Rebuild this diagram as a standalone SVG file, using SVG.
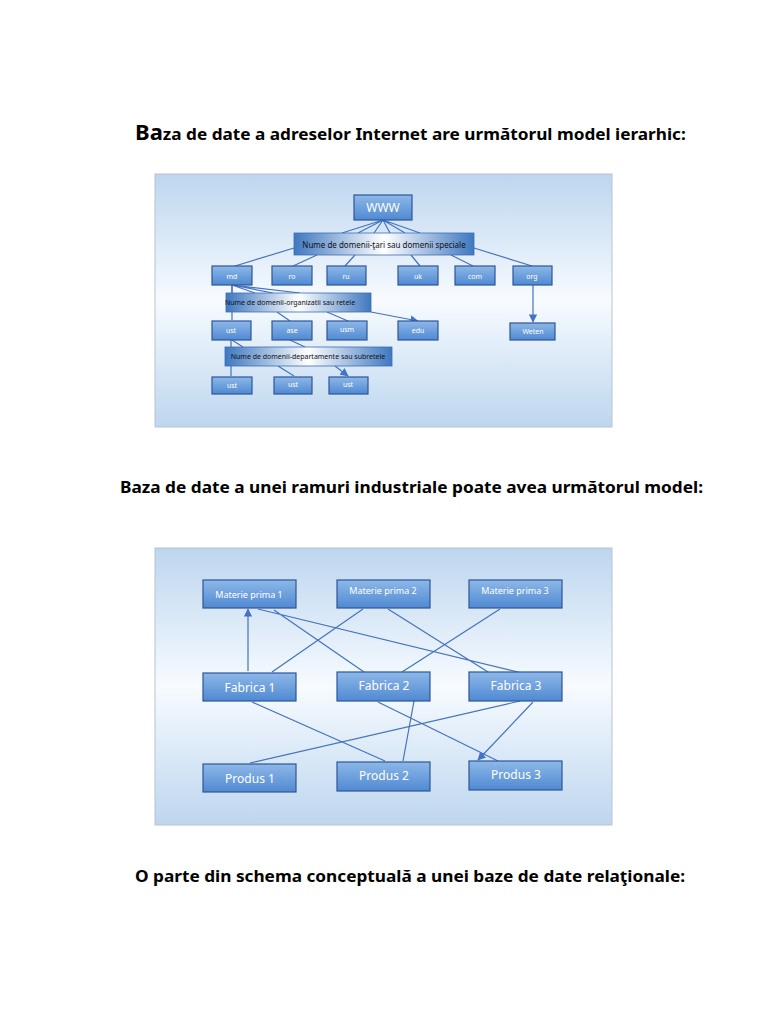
<svg xmlns="http://www.w3.org/2000/svg" width="768" height="1024" viewBox="0 0 768 1024">
<defs>
<linearGradient id="pg" x1="0" y1="0" x2="0" y2="1"><stop offset="0" stop-color="#bdd6ef"/><stop offset="0.5" stop-color="#f7fbff"/><stop offset="1" stop-color="#bdd6ef"/></linearGradient>
<linearGradient id="bg" x1="0" y1="0" x2="0" y2="1"><stop offset="0" stop-color="#8db8e8"/><stop offset="1" stop-color="#5089d2"/></linearGradient>
<linearGradient id="hg" x1="0" y1="0" x2="1" y2="0"><stop offset="0" stop-color="#3f78c0"/><stop offset="0.5" stop-color="#ffffff"/><stop offset="1" stop-color="#3f78c0"/></linearGradient>
<marker id="a" viewBox="0 0 10 10" refX="9" refY="5" markerWidth="7" markerHeight="7" orient="auto-start-reverse"><path d="M0,0L10,5L0,10z" fill="#4472c4"/></marker>
</defs>
<style>
.t{font-family:"Noto Sans","Open Sans",sans-serif;font-weight:bold;fill:#000}
.b{fill:url(#bg);stroke:#2f5597;stroke-width:1.2}
.h{fill:url(#hg);stroke:#3b6fb5;stroke-width:0.8}
.w{font-family:"Noto Sans",sans-serif;fill:#fff;text-anchor:middle}
.k{font-family:"Noto Sans",sans-serif;fill:#111;text-anchor:middle}
.l{stroke:#4472c4;stroke-width:1.2;fill:none}
.s{marker-end:url(#a)}
.d{marker-start:url(#a);marker-end:url(#a)}
.p{fill:url(#pg);stroke:#b8c4d0;stroke-width:1}
</style>
<rect width="768" height="1024" fill="#fff"/>
<text class="t" x="135" y="140" font-size="16"><tspan font-size="22">Ba</tspan><tspan textLength="523" lengthAdjust="spacingAndGlyphs">za de date a adreselor Internet are următorul model ierarhic:</tspan></text>
<text class="t" x="120" y="493" font-size="16" textLength="583" lengthAdjust="spacingAndGlyphs">Baza de date a unei ramuri industriale poate avea următorul model:</text>
<text class="t" x="135" y="882" font-size="16" textLength="550" lengthAdjust="spacingAndGlyphs">O parte din schema conceptuală a unei baze de date relaţionale:</text>

<rect class="p" x="155" y="174" width="457" height="253"/>
<g id="connectors1">
<path class="l" d="M383,220L342,233M383,220L358,233M383,220L374,233M383,220L390,233M383,220L405,233M383,220L420,233"/>
<path class="l s" d="M294,248L235,266M317,255L293,266M355,255L345,266M411,255L420,266M451,255L473,266M474,248L532,266M533,285L533,322"/>
<path class="l" d="M232,285L232,293M232,285L255,293M232,285L273,293M232,285L300,293"/>
<path class="l s" d="M232,285L232,320M277,312L290,321M327,312L348,321M371,312L418,321"/>
<path class="l" d="M232,340L243,347M290,340L305,347"/>
<path class="l s" d="M231,340L231,376M278,366L294,376M335,366L348,376"/>
</g>
<g id="www"><rect class="b" x="354" y="195" width="58" height="25"/><text class="w" x="383" y="212" font-size="12">WWW</text></g>
<g id="ban1"><rect class="h" x="294" y="233" width="180" height="22"/><text class="k" x="384" y="248" font-size="8">Nume de domenii-ţari sau domenii speciale</text></g>
<g id="md"><rect class="b" x="212" y="266" width="40" height="19"/><text class="w" x="232" y="279" font-size="7">md</text></g>
<g id="ro"><rect class="b" x="272" y="266" width="40" height="19"/><text class="w" x="292" y="279" font-size="7">ro</text></g>
<g id="ru"><rect class="b" x="327" y="266" width="39" height="19"/><text class="w" x="346" y="279" font-size="7">ru</text></g>
<g id="uk"><rect class="b" x="398" y="266" width="40" height="19"/><text class="w" x="418" y="279" font-size="7">uk</text></g>
<g id="com"><rect class="b" x="455" y="266" width="40" height="19"/><text class="w" x="475" y="279" font-size="7">com</text></g>
<g id="org"><rect class="b" x="513" y="266" width="39" height="19"/><text class="w" x="532" y="279" font-size="7">org</text></g>
<g id="ban2"><rect class="h" x="226" y="293" width="145" height="19"/><text class="k" x="290" y="305" font-size="7">Nume de domenii-organizatii sau retele</text></g>
<g id="ust1"><rect class="b" x="212" y="321" width="39" height="19"/><text class="w" x="231" y="333" font-size="7">ust</text></g>
<g id="ase"><rect class="b" x="272" y="321" width="40" height="19"/><text class="w" x="292" y="333" font-size="7">ase</text></g>
<g id="usm"><rect class="b" x="327" y="321" width="40" height="19"/><text class="w" x="347" y="332" font-size="7">usm</text></g>
<g id="edu"><rect class="b" x="398" y="321" width="40" height="19"/><text class="w" x="418" y="333" font-size="7">edu</text></g>
<g id="weten"><rect class="b" x="510" y="323" width="45" height="17"/><text class="w" x="533" y="334" font-size="7">Weten</text></g>
<g id="ban3"><rect class="h" x="225" y="347" width="167" height="19"/><text class="k" x="308" y="359" font-size="7">Nume de domenii-departamente sau subretele</text></g>
<g id="ust2"><rect class="b" x="212" y="377" width="40" height="17"/><text class="w" x="232" y="388" font-size="7">ust</text></g>
<g id="ust3"><rect class="b" x="274" y="377" width="38" height="17"/><text class="w" x="293" y="387" font-size="7">ust</text></g>
<g id="ust4"><rect class="b" x="329" y="377" width="39" height="17"/><text class="w" x="348" y="387" font-size="7">ust</text></g>

<rect class="p" x="155" y="548" width="457" height="277"/>
<g id="connectors2">
<path class="l d" d="M248,609L248,671M363,609L272,672M274,610L364,672M258,609L522,673M388,609L488,672M500,609L402,672M252,702L385,761M414,701L403,761M378,702L498,761M520,701L250,763M533,702L478,760"/>
</g>
<g id="mp1"><rect class="b" x="203" y="580" width="93" height="28"/><text class="w" x="249" y="598" font-size="9">Materie prima 1</text></g>
<g id="mp2"><rect class="b" x="337" y="580" width="93" height="28"/><text class="w" x="383" y="594" font-size="9">Materie prima 2</text></g>
<g id="mp3"><rect class="b" x="469" y="580" width="93" height="28"/><text class="w" x="515" y="594" font-size="9">Materie prima 3</text></g>
<g id="f1"><rect class="b" x="203" y="673" width="93" height="28"/><text class="w" x="250" y="692" font-size="12">Fabrica 1</text></g>
<g id="f2"><rect class="b" x="337" y="672" width="93" height="29"/><text class="w" x="384" y="690" font-size="12">Fabrica 2</text></g>
<g id="f3"><rect class="b" x="469" y="672" width="93" height="29"/><text class="w" x="516" y="690" font-size="12">Fabrica 3</text></g>
<g id="p1"><rect class="b" x="203" y="764" width="93" height="28"/><text class="w" x="250" y="783" font-size="12">Produs 1</text></g>
<g id="p2"><rect class="b" x="337" y="762" width="93" height="29"/><text class="w" x="384" y="780" font-size="12">Produs 2</text></g>
<g id="p3"><rect class="b" x="469" y="761" width="93" height="29"/><text class="w" x="516" y="779" font-size="12">Produs 3</text></g>
</svg>
